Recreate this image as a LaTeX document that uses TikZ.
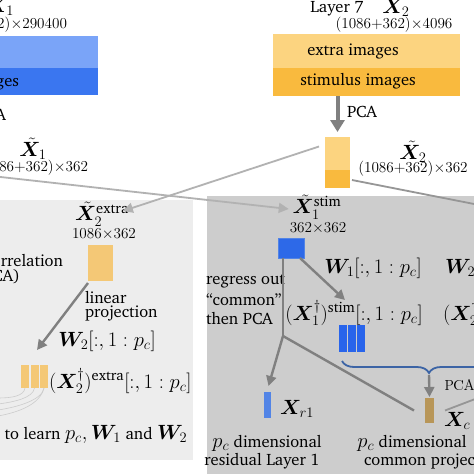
\RequirePackage{fix-cm}
\documentclass[tikz,border=0pt]{standalone}
\usepackage[T1]{fontenc}
\usepackage{charter}
\usepackage{amsmath,bm}
\DeclareMathSizes{16.5}{20.6}{14.5}{11}
\usetikzlibrary{arrows.meta,decorations.pathreplacing,calc}
\definecolor{lblue}{RGB}{122,164,248}
\definecolor{dblue}{RGB}{58,118,240}
\definecolor{sqblue}{RGB}{45,105,232}
\definecolor{barblue}{RGB}{40,100,235}
\definecolor{rblue}{RGB}{82,132,230}
\definecolor{lorange}{RGB}{252,212,128}
\definecolor{dorange}{RGB}{249,186,62}
\definecolor{eorange}{RGB}{244,200,118}
\definecolor{tanbox}{RGB}{184,150,88}
\definecolor{panelL}{RGB}{237,237,237}
\definecolor{panelD}{RGB}{205,205,205}
\definecolor{agray}{RGB}{128,128,128}
\definecolor{lgray}{RGB}{178,178,178}
\definecolor{mgray}{RGB}{150,150,150}
\definecolor{braceblue}{RGB}{60,100,165}
\begin{document}
\begin{tikzpicture}[x=1pt,y=-1pt,
  every node/.style={inner sep=0pt,outer sep=0pt},
  txt/.style={font=\fontsize{16.5}{19}\selectfont},
  smalltxt/.style={font=\fontsize{15.2}{17}\selectfont},
  sanstxt/.style={font=\fontsize{15}{18}\selectfont\sffamily},
  boxnode/.style={anchor=north west,inner sep=0pt,draw=none},
  bigarrow/.style={draw=agray,line width=4pt,-{Triangle[length=12pt,width=14pt]}},
  darrow/.style={draw=agray,line width=2.4pt,-{Triangle[length=10pt,width=10pt]}},
  dline/.style={draw=agray,line width=2.4pt},
  larrow/.style={draw=lgray,line width=1.8pt,-{Triangle[length=10pt,width=10pt]}},
  mline/.style={draw=mgray,line width=1.8pt},
  faint/.style={draw=black!20,line width=0.6pt}]
\useasboundingbox (0,0) rectangle (474,474);
\clip (0,0) rectangle (474,474);
\fill[white] (0,0) rectangle (474,474);

% panels
\fill[panelL] (-10,200) rectangle (193,460);
\fill[panelD] (207,196) rectangle (480,480);

% Layer 1 (cut off)
\node[boxnode,fill=lblue,minimum width=220pt,minimum height=32pt] (L1e) at (-122,36) {};
\node[boxnode,fill=dblue,minimum width=220pt,minimum height=27pt] (L1s) at (-122,68) {};
\node[txt,anchor=east] (L1stext) at (19,82) {stimulus images};
\node[txt,anchor=east] (L1x) at (14,7) {$\bm{X}_1$};
\node[smalltxt,anchor=east] (L1dim) at (67,25) {$(1086{+}362){\times}290400$};
\node[txt,anchor=east] (L1pca) at (6,115) {PCA};
\node[txt] (X1t) at (33,149) {$\tilde{\bm{X}}_1$};
\node[smalltxt,anchor=east] (X1tdim) at (88,168) {$(1086{+}362){\times}362$};
\coordinate (X1src) at (-40,172.5);

% Layer 7
\node[txt] (L7lab) at (337,9) {Layer 7};
\node[txt] (L7x) at (396,8) {$\bm{X}_2$};
\node[smalltxt] (L7dim) at (394,25) {$(1086{+}362){\times}4096$};
\node[boxnode,fill=lorange,minimum width=187pt,minimum height=34pt] (L7e) at (273,34) {};
\node[boxnode,fill=dorange,minimum width=187pt,minimum height=28pt] (L7s) at (273,68) {};
\node[txt] (L7etext) at (353,51) {extra images};
\node[txt] (L7stext) at (358,81) {stimulus images};

% X2 tilde
\node[boxnode,fill=lorange,minimum width=25pt,minimum height=33pt] (X2t) at (325,137) {};
\node[boxnode,fill=dorange,minimum width=25pt,minimum height=18pt] (X2tb) at (325,170) {};
\draw[bigarrow] (X2t.north |- L7s.south) -- ($(X2t.north)+(0,-5)$);
\node[txt,anchor=west] (pca1) at (347,112) {PCA};
\node[txt] (X2tlab) at (413,152) {$\tilde{\bm{X}}_2$};
\node[smalltxt] (X2tdim) at (413,169) {$(1086{+}362){\times}362$};
\coordinate (rightout) at (525,214);

% left panel
\node[txt] (X2e) at (102,214) {$\tilde{\bm{X}}_2^{\text{extra}}$};
\node[smalltxt] (X2edim) at (104,234) {$1086{\times}362$};
\node[boxnode,fill=eorange,minimum width=25pt,minimum height=36pt] (X2ebox) at (88,245) {};
\node[txt,anchor=east] (corr) at (63,260) {correlation};
\node[txt,anchor=east] (cca) at (20,277) {(CCA)};
\node[txt,anchor=west] (lin1) at (85,297) {linear};
\node[txt,anchor=west] (lin2) at (85,313) {projection};
\node[txt] (W2a) at (107,341) {$\bm{W}_2[:,1:p_c]$};
\node[boxnode,fill=eorange,minimum width=8pt,minimum height=23pt] (eb1) at (21,365) {};
\node[boxnode,fill=eorange,minimum width=8pt,minimum height=23pt] (eb2) at (30.5,365) {};
\node[boxnode,fill=eorange,minimum width=8pt,minimum height=23pt] (eb3) at (40,365) {};
\node[txt,anchor=west] (X2dag) at (49,381) {$(\bm{X}_2^{\dagger})^{\text{extra}}[:,1:p_c]$};
\node[txt] (learn) at (96,434) {to learn $p_c,\bm{W}_1$ and $\bm{W}_2$};
\coordinate (f1) at (-2,398);
\coordinate (f2) at (-2,404);
\coordinate (f3) at (-2,410);
\draw[faint] (eb1.south) .. controls (24,396) and (12,398) .. (f1);
\draw[faint] (eb2.south) .. controls (33,398) and (14,402) .. (f2);
\draw[faint] (eb3.south) .. controls (42,400) and (18,407) .. (f3);
\draw[faint] (eb3.south) .. controls (40,404) and (20,412) .. (-2,416);
\draw[darrow] ($(X2ebox.south west)+(0,2)$) -- (37,350);

% dark panel
\node[txt] (X1s) at (317,207) {$\tilde{\bm{X}}_1^{\text{stim}}$};
\node[smalltxt] (X1sdim) at (318,228) {$362{\times}362$};
\node[boxnode,fill=sqblue,draw=rblue,line width=0.6pt,minimum width=26pt,minimum height=20pt] (X1sbox) at (278,238) {};
\node[txt] (W1) at (373,268) {$\bm{W}_1[:,1:p_c]$};
\node[txt,anchor=west] (W2b) at (445,268) {$\bm{W}_2[:,1:p_c]$};
\node[txt] (X1dag) at (354,313) {$(\bm{X}_1^{\dagger})^{\text{stim}}[:,1:p_c]$};
\node[txt,anchor=west] (X2dagb) at (443,313) {$(\bm{X}_2^{\dagger})^{\text{stim}}[:,1:p_c]$};
\node[boxnode,fill=barblue,minimum width=8pt,minimum height=27pt] (sb1) at (339,325) {};
\node[boxnode,fill=barblue,minimum width=8pt,minimum height=27pt] (sb2) at (348,325) {};
\node[boxnode,fill=barblue,minimum width=8pt,minimum height=27pt] (sb3) at (357,325) {};
\node[txt,anchor=west] (reg1) at (206,282) {regress out};
\node[txt,anchor=west] (reg2) at (206,300) {``common''};
\node[txt,anchor=west] (reg3) at (206,318) {then PCA};
\coordinate (branch) at (283,336);
\node[boxnode,fill=rblue,minimum width=7pt,minimum height=26pt] (Xr1) at (264,392) {};
\node[txt,anchor=west] (Xr1lab) at (280,409) {$\bm{X}_{r1}$};
\node[txt] (pd1) at (267,443) {$p_c$ dimensional};
\node[txt] (res) at (262,461) {residual Layer 1};
\node[boxnode,fill=tanbox,minimum width=9pt,minimum height=25pt] (Xc) at (425,398) {};
\node[txt,anchor=west] (Xclab) at (444,421) {$\bm{X}_c$};
\node[sanstxt,anchor=west] (pca2) at (444,385) {PCA};
\node[txt] (pd2) at (412,443) {$p_c$ dimensional};
\node[txt,anchor=west] (comm) at (364,461) {common projection};
\coordinate (braceL) at (342,361);
\coordinate (braceR) at (516,361);
\coordinate (rightin) at (525,380);

% connectors
\draw[larrow] (X1src) -- ($(X1s.west)+(-4,2)$);
\draw[larrow] ($(X2t.west)+(-6,-7)$) -- ($(X2e.east)+(-6,-3)$);
\draw[mline] ($(X2tb.south east)+(2,-8)$) -- (rightout);
\draw[darrow] ($(X1sbox.south east)+(-4,0)$) -- (345,300);
\draw[dline] (X1sbox.south west -| branch) -- (branch);
\draw[darrow] (branch) -- ($(Xr1.north)+(1,-6)$);
\draw[dline] (branch) -- ($(Xc.west)+(-11,0)$);
\draw[mline] (rightin) -- ($(Xc.east)+(11,0)$);
\draw[braceblue,line width=1.8pt,decorate,decoration={brace,mirror,amplitude=12pt}] (braceL) -- (braceR);
\draw[darrow] (429,375) -- ($(Xc.north)+(0,-1)$);
\end{tikzpicture}
\end{document}
